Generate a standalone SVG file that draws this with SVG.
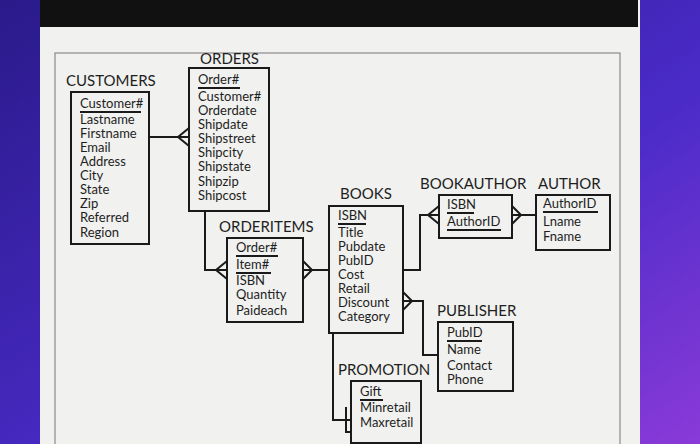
<svg xmlns="http://www.w3.org/2000/svg" width="700" height="444" viewBox="0 0 700 444">
<defs>
<linearGradient id="bg" x1="0" y1="0" x2="1" y2="1"><stop offset="0" stop-color="#2a1a8a"/><stop offset="0.6" stop-color="#4a2bc8"/><stop offset="1" stop-color="#8a3ad8"/></linearGradient>
<style>
text{font-family:"Lato","Open Sans",sans-serif;fill:#1e1e1e;font-size:13px}
.t{font-size:15px}
.b{fill:none;stroke:#1a1a1a;stroke-width:2}
.c{fill:none;stroke:#1a1a1a;stroke-width:2}
.u{stroke:#1a1a1a;stroke-width:2}
</style>
</defs>
<rect width="700" height="444" fill="url(#bg)"/>
<rect x="40" y="0" width="600" height="444" fill="#f1f1ef"/>
<rect x="40" y="0" width="598" height="27" fill="#111"/>
<rect x="55" y="53" width="565" height="400" fill="none" stroke="#8a8a8a" stroke-width="1.2"/>

<g id="connectors" class="c">
<path d="M149 137H189M178 137L189 128M178 137L189 146"/>
<path d="M205 211V270H227M216 270L227 261M216 270L227 279"/>
<path d="M303 270H329M303 261L312 270L303 279"/>
<path d="M403 270H420V215H439M428 215L439 206M428 215L439 224"/>
<path d="M512 215H536M512 206L521 215L512 224"/>
<path d="M403 292L412 301L403 310M403 301H423V355H438"/>
<path d="M333 333V420H351M346 407V432H351"/>
</g>

<g id="customers">
<text class="t" x="66" y="86">CUSTOMERS</text>
<rect class="b" x="71" y="92" width="78" height="152"/>
<text x="80" y="108">Customer#</text><line class="u" x1="80" y1="112" x2="141" y2="112"/>
<text x="80" y="124">Lastname</text><text x="80" y="138">Firstname</text><text x="80" y="152">Email</text><text x="80" y="166">Address</text><text x="80" y="180">City</text><text x="80" y="194">State</text><text x="80" y="208">Zip</text><text x="80" y="222">Referred</text><text x="80" y="237">Region</text>
</g>

<g id="orders">
<text class="t" x="200" y="64">ORDERS</text>
<rect class="b" x="189" y="68" width="80" height="143"/>
<text x="198" y="84">Order#</text><line class="u" x1="198" y1="88" x2="240" y2="88"/>
<text x="198" y="101">Customer#</text><text x="198" y="115">Orderdate</text><text x="198" y="129">Shipdate</text><text x="198" y="143">Shipstreet</text><text x="198" y="157">Shipcity</text><text x="198" y="171">Shipstate</text><text x="198" y="186">Shipzip</text><text x="198" y="200">Shipcost</text>
</g>

<g id="orderitems">
<text class="t" x="219" y="232">ORDERITEMS</text>
<rect class="b" x="227" y="238" width="76" height="84"/>
<text x="236" y="252">Order#</text><line class="u" x1="236" y1="256" x2="278" y2="256"/>
<text x="236" y="269">Item#</text><line class="u" x1="236" y1="273" x2="271" y2="273"/>
<text x="236" y="285">ISBN</text><text x="236" y="299">Quantity</text><text x="236" y="315">Paideach</text>
</g>

<g id="books">
<text class="t" x="340" y="199">BOOKS</text>
<rect class="b" x="329" y="206" width="74" height="127"/>
<text x="338" y="220">ISBN</text><line class="u" x1="338" y1="224" x2="366" y2="224"/>
<text x="338" y="237">Title</text><text x="338" y="251">Pubdate</text><text x="338" y="265">PubID</text><text x="338" y="279">Cost</text><text x="338" y="293">Retail</text><text x="338" y="307">Discount</text><text x="338" y="321">Category</text>
</g>

<g id="bookauthor">
<text class="t" x="420" y="189">BOOKAUTHOR</text>
<rect class="b" x="439" y="195" width="73" height="43"/>
<text x="447" y="209">ISBN</text><line class="u" x1="447" y1="213" x2="474" y2="213"/>
<text x="447" y="226">AuthorID</text><line class="u" x1="447" y1="230" x2="501" y2="230"/>
</g>

<g id="author">
<text class="t" x="538" y="189">AUTHOR</text>
<rect class="b" x="536" y="195" width="74" height="55"/>
<text x="543" y="208">AuthorID</text><line class="u" x1="543" y1="212" x2="598" y2="212"/>
<text x="543" y="226">Lname</text><text x="543" y="241">Fname</text>
</g>

<g id="publisher">
<text class="t" x="437" y="316">PUBLISHER</text>
<rect class="b" x="438" y="322" width="75" height="69"/>
<text x="447" y="337">PubID</text><line class="u" x1="447" y1="341" x2="482" y2="341"/>
<text x="447" y="354">Name</text><text x="447" y="370">Contact</text><text x="447" y="384">Phone</text>
</g>

<g id="promotion">
<text class="t" x="338" y="375">PROMOTION</text>
<rect class="b" x="351" y="381" width="70" height="62"/>
<text x="360" y="396">Gift</text><line class="u" x1="360" y1="400" x2="383" y2="400"/>
<text x="360" y="412">Minretail</text><text x="360" y="427">Maxretail</text>
</g>
</svg>
